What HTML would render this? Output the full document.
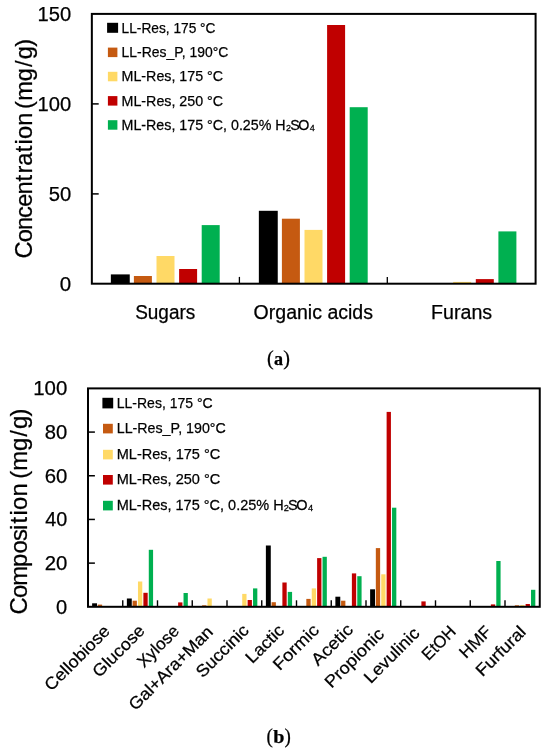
<!DOCTYPE html>
<html lang="en"><head><meta charset="utf-8"><title>Figure</title>
<style>html,body{margin:0;padding:0;background:#fff}svg{display:block}text{fill:#000;stroke:#000;stroke-width:0.25px}</style></head><body>
<svg width="550" height="756" viewBox="0 0 550 756">
<rect width="550" height="756" fill="#fff"/>
<g id="chart-a">
<rect x="110.85" y="274.40" width="18.90" height="9.30" fill="#000000"/>
<rect x="133.90" y="276.00" width="18.00" height="7.70" fill="#C55A11"/>
<rect x="156.50" y="256.00" width="18.00" height="27.70" fill="#FFD966"/>
<rect x="179.10" y="269.00" width="18.00" height="14.70" fill="#C00000"/>
<rect x="201.70" y="225.10" width="18.00" height="58.60" fill="#00B050"/>
<rect x="258.85" y="210.80" width="18.90" height="72.90" fill="#000000"/>
<rect x="281.90" y="218.70" width="18.00" height="65.00" fill="#C55A11"/>
<rect x="304.50" y="229.90" width="18.00" height="53.80" fill="#FFD966"/>
<rect x="327.10" y="25.00" width="18.00" height="258.70" fill="#C00000"/>
<rect x="349.70" y="107.20" width="18.00" height="176.50" fill="#00B050"/>
<rect x="453.20" y="281.90" width="18.00" height="1.80" fill="#FFD966"/>
<rect x="475.80" y="279.10" width="18.00" height="4.60" fill="#C00000"/>
<rect x="498.40" y="231.40" width="18.00" height="52.30" fill="#00B050"/>
<line x1="91.85" y1="103.9" x2="98.7" y2="103.9" stroke="#000" stroke-width="1.5"/>
<line x1="91.85" y1="193.9" x2="98.7" y2="193.9" stroke="#000" stroke-width="1.5"/>
<line x1="239.4" y1="276.9" x2="239.4" y2="283.7" stroke="#000" stroke-width="1.3"/>
<line x1="387.3" y1="276.9" x2="387.3" y2="283.7" stroke="#000" stroke-width="1.3"/>
<rect x="91.85" y="13.9" width="443.75" height="269.80" fill="none" stroke="#000" stroke-width="2"/>
<rect x="107.10" y="22.80" width="11.00" height="10.00" fill="#000000"/>
<rect x="107.90" y="47.60" width="9.50" height="9.50" fill="#C55A11"/>
<rect x="107.90" y="71.80" width="9.50" height="9.50" fill="#FFD966"/>
<rect x="107.90" y="96.10" width="9.50" height="9.50" fill="#C00000"/>
<rect x="107.90" y="120.20" width="9.50" height="9.50" fill="#00B050"/>
</g>
<g id="chart-b">
<rect x="92.12" y="603.30" width="4.90" height="3.50" fill="#000000"/>
<rect x="97.82" y="604.60" width="4.30" height="2.20" fill="#C55A11"/>
<rect x="126.87" y="598.50" width="4.90" height="8.30" fill="#000000"/>
<rect x="132.57" y="600.70" width="4.30" height="6.10" fill="#C55A11"/>
<rect x="137.97" y="581.50" width="4.30" height="25.30" fill="#FFD966"/>
<rect x="143.38" y="592.80" width="4.30" height="14.00" fill="#C00000"/>
<rect x="148.78" y="549.80" width="4.30" height="57.00" fill="#00B050"/>
<rect x="178.12" y="602.40" width="4.30" height="4.40" fill="#C00000"/>
<rect x="183.53" y="593.00" width="4.30" height="13.80" fill="#00B050"/>
<rect x="202.07" y="605.30" width="4.30" height="1.50" fill="#C55A11"/>
<rect x="207.47" y="598.50" width="4.30" height="8.30" fill="#FFD966"/>
<rect x="242.22" y="593.90" width="4.30" height="12.90" fill="#FFD966"/>
<rect x="247.62" y="600.00" width="4.30" height="6.80" fill="#C00000"/>
<rect x="253.03" y="588.40" width="4.30" height="18.40" fill="#00B050"/>
<rect x="265.88" y="545.50" width="4.90" height="61.30" fill="#000000"/>
<rect x="271.58" y="602.20" width="4.30" height="4.60" fill="#C55A11"/>
<rect x="282.38" y="582.50" width="4.30" height="24.30" fill="#C00000"/>
<rect x="287.78" y="591.90" width="4.30" height="14.90" fill="#00B050"/>
<rect x="306.33" y="598.90" width="4.30" height="7.90" fill="#C55A11"/>
<rect x="311.73" y="588.40" width="4.30" height="18.40" fill="#FFD966"/>
<rect x="317.12" y="558.10" width="4.30" height="48.70" fill="#C00000"/>
<rect x="322.53" y="556.80" width="4.30" height="50.00" fill="#00B050"/>
<rect x="335.38" y="596.70" width="4.90" height="10.10" fill="#000000"/>
<rect x="341.08" y="600.70" width="4.30" height="6.10" fill="#C55A11"/>
<rect x="351.88" y="573.40" width="4.30" height="33.40" fill="#C00000"/>
<rect x="357.28" y="576.20" width="4.30" height="30.60" fill="#00B050"/>
<rect x="370.12" y="589.30" width="4.90" height="17.50" fill="#000000"/>
<rect x="375.83" y="548.10" width="4.30" height="58.70" fill="#C55A11"/>
<rect x="381.23" y="574.30" width="4.30" height="32.50" fill="#FFD966"/>
<rect x="386.62" y="411.90" width="4.30" height="194.90" fill="#C00000"/>
<rect x="392.03" y="507.70" width="4.30" height="99.10" fill="#00B050"/>
<rect x="421.38" y="601.40" width="4.30" height="5.40" fill="#C00000"/>
<rect x="490.88" y="604.40" width="4.30" height="2.40" fill="#C00000"/>
<rect x="496.28" y="561.00" width="4.30" height="45.80" fill="#00B050"/>
<rect x="514.83" y="605.30" width="4.30" height="1.50" fill="#C55A11"/>
<rect x="520.23" y="605.10" width="4.30" height="1.70" fill="#FFD966"/>
<rect x="525.62" y="604.00" width="4.30" height="2.80" fill="#C00000"/>
<rect x="531.02" y="589.80" width="4.30" height="17.00" fill="#00B050"/>
<line x1="88.0" y1="432.08" x2="94.9" y2="432.08" stroke="#000" stroke-width="1.5"/>
<line x1="88.0" y1="475.76" x2="94.9" y2="475.76" stroke="#000" stroke-width="1.5"/>
<line x1="88.0" y1="519.44" x2="94.9" y2="519.44" stroke="#000" stroke-width="1.5"/>
<line x1="88.0" y1="563.12" x2="94.9" y2="563.12" stroke="#000" stroke-width="1.5"/>
<line x1="122.75" y1="600.3" x2="122.75" y2="606.8" stroke="#000" stroke-width="1.4"/>
<line x1="157.50" y1="600.3" x2="157.50" y2="606.8" stroke="#000" stroke-width="1.4"/>
<line x1="192.25" y1="600.3" x2="192.25" y2="606.8" stroke="#000" stroke-width="1.4"/>
<line x1="227.00" y1="600.3" x2="227.00" y2="606.8" stroke="#000" stroke-width="1.4"/>
<line x1="261.75" y1="600.3" x2="261.75" y2="606.8" stroke="#000" stroke-width="1.4"/>
<line x1="296.50" y1="600.3" x2="296.50" y2="606.8" stroke="#000" stroke-width="1.4"/>
<line x1="331.25" y1="600.3" x2="331.25" y2="606.8" stroke="#000" stroke-width="1.4"/>
<line x1="366.00" y1="600.3" x2="366.00" y2="606.8" stroke="#000" stroke-width="1.4"/>
<line x1="400.75" y1="600.3" x2="400.75" y2="606.8" stroke="#000" stroke-width="1.4"/>
<line x1="435.50" y1="600.3" x2="435.50" y2="606.8" stroke="#000" stroke-width="1.4"/>
<line x1="470.25" y1="600.3" x2="470.25" y2="606.8" stroke="#000" stroke-width="1.4"/>
<line x1="505.00" y1="600.3" x2="505.00" y2="606.8" stroke="#000" stroke-width="1.4"/>
<rect x="88.0" y="388.4" width="451.75" height="218.40" fill="none" stroke="#000" stroke-width="2"/>
<rect x="102.40" y="397.80" width="10.80" height="10.60" fill="#000000"/>
<rect x="103.00" y="423.80" width="9.80" height="9.60" fill="#C55A11"/>
<rect x="103.00" y="449.80" width="9.80" height="9.60" fill="#FFD966"/>
<rect x="103.00" y="475.00" width="9.80" height="9.60" fill="#C00000"/>
<rect x="103.00" y="500.80" width="9.80" height="9.60" fill="#00B050"/>
</g>
<g id="labels">
<text x="37.57" y="20.78" font-family="'Liberation Sans', sans-serif" font-size="20.0" textLength="33.62" lengthAdjust="spacingAndGlyphs">150</text>
<text x="37.57" y="110.68" font-family="'Liberation Sans', sans-serif" font-size="20.0" textLength="33.62" lengthAdjust="spacingAndGlyphs">100</text>
<text x="48.69" y="200.68" font-family="'Liberation Sans', sans-serif" font-size="20.0" textLength="22.50" lengthAdjust="spacingAndGlyphs">50</text>
<text x="59.80" y="290.58" font-family="'Liberation Sans', sans-serif" font-size="20.0" textLength="11.40" lengthAdjust="spacingAndGlyphs">0</text>
<text transform="translate(31.80,257.30) rotate(-90) scale(1.0288,1)" x="-1.17 14.70 26.50 38.30 49.17 60.94 73.79 81.47 88.98 102.09 109.60 114.98 127.79 141.59 144.18 152.13 171.14 185.02 192.51 204.69" y="0" font-family="'Liberation Sans', sans-serif" font-size="23.0">Concentration (mg/g)</text>
<text x="135.14" y="319.20" font-family="'Liberation Sans', sans-serif" font-size="19.6" textLength="60.15" lengthAdjust="spacingAndGlyphs">Sugars</text>
<text x="253.57" y="319.20" font-family="'Liberation Sans', sans-serif" font-size="19.6" textLength="119.43" lengthAdjust="spacingAndGlyphs">Organic acids</text>
<text x="431.09" y="319.20" font-family="'Liberation Sans', sans-serif" font-size="19.6" textLength="61.02" lengthAdjust="spacingAndGlyphs">Furans</text>
<text x="121.57" y="32.90" font-family="'Liberation Sans', sans-serif" font-size="15.0" textLength="93.95" lengthAdjust="spacingAndGlyphs">LL-Res, 175 °C</text>
<text x="121.56" y="57.00" font-family="'Liberation Sans', sans-serif" font-size="15.0" textLength="106.77" lengthAdjust="spacingAndGlyphs">LL-Res_P, 190°C</text>
<text x="121.53" y="81.20" font-family="'Liberation Sans', sans-serif" font-size="15.0" textLength="101.61" lengthAdjust="spacingAndGlyphs">ML-Res, 175 °C</text>
<text x="121.53" y="105.50" font-family="'Liberation Sans', sans-serif" font-size="15.0" textLength="101.61" lengthAdjust="spacingAndGlyphs">ML-Res, 250 °C</text>
<text transform="translate(0,129.60) scale(0.9502,1)" x="127.90 140.40 148.74 153.73 164.57 172.91 180.41 184.58 188.74 197.09 205.43 213.77 217.94 223.94 234.77 238.94 243.10 251.45 255.61 263.96 272.30 285.64 289.80 300.61 305.46 313.89 325.57" y="0" font-family="'Liberation Sans', sans-serif" font-size="15.0">ML-Res, 175 °C, 0.25% H₂SO₄</text>
<text y="364.90" font-family="'Liberation Serif', serif"><tspan x="267.11" font-size="20.0" textLength="6.74" lengthAdjust="spacingAndGlyphs">(</tspan><tspan x="273.92" font-size="18.5" font-weight="bold" textLength="9.06" lengthAdjust="spacingAndGlyphs">a</tspan><tspan x="283.15" font-size="20.0" textLength="6.74" lengthAdjust="spacingAndGlyphs">)</tspan></text>
<text x="33.25" y="395.28" font-family="'Liberation Sans', sans-serif" font-size="20.0" textLength="34.05" lengthAdjust="spacingAndGlyphs">100</text>
<text x="44.82" y="438.96" font-family="'Liberation Sans', sans-serif" font-size="20.0" textLength="22.47" lengthAdjust="spacingAndGlyphs">80</text>
<text x="44.67" y="482.64" font-family="'Liberation Sans', sans-serif" font-size="20.0" textLength="22.63" lengthAdjust="spacingAndGlyphs">60</text>
<text x="45.25" y="526.32" font-family="'Liberation Sans', sans-serif" font-size="20.0" textLength="22.03" lengthAdjust="spacingAndGlyphs">40</text>
<text x="44.68" y="570.00" font-family="'Liberation Sans', sans-serif" font-size="20.0" textLength="22.62" lengthAdjust="spacingAndGlyphs">20</text>
<text x="56.12" y="613.68" font-family="'Liberation Sans', sans-serif" font-size="20.0" textLength="11.17" lengthAdjust="spacingAndGlyphs">0</text>
<text transform="translate(27.40,613.30) rotate(-90) scale(1.0352,1)" x="-1.17 14.71 26.50 44.83 57.66 69.81 80.52 86.82 94.40 99.85 112.84 126.64 129.95 137.81 156.72 170.54 177.92 190.06" y="0" font-family="'Liberation Sans', sans-serif" font-size="23.0">Composition (mg/g)</text>
<text x="116.75" y="407.90" font-family="'Liberation Sans', sans-serif" font-size="15.2" textLength="95.88" lengthAdjust="spacingAndGlyphs">LL-Res, 175 °C</text>
<text x="116.73" y="433.00" font-family="'Liberation Sans', sans-serif" font-size="15.2" textLength="109.11" lengthAdjust="spacingAndGlyphs">LL-Res_P, 190°C</text>
<text x="116.71" y="459.00" font-family="'Liberation Sans', sans-serif" font-size="15.2" textLength="103.55" lengthAdjust="spacingAndGlyphs">ML-Res, 175 °C</text>
<text x="116.71" y="484.20" font-family="'Liberation Sans', sans-serif" font-size="15.2" textLength="103.55" lengthAdjust="spacingAndGlyphs">ML-Res, 250 °C</text>
<text transform="translate(0,510.10) scale(0.9545,1)" x="122.27 134.94 143.39 148.45 159.43 167.88 175.48 179.70 183.93 192.38 200.83 209.29 213.51 219.59 230.57 234.79 239.01 247.47 251.69 260.14 268.60 282.11 286.33 296.95 301.85 310.38 322.06" y="0" font-family="'Liberation Sans', sans-serif" font-size="15.2">ML-Res, 175 °C, 0.25% H₂SO₄</text>
<text transform="translate(51.27,691.74) rotate(-45)" x="0" y="0" font-family="'Liberation Sans', sans-serif" font-size="17.0" textLength="84.41" lengthAdjust="spacingAndGlyphs">Cellobiose</text>
<text transform="translate(99.35,678.21) rotate(-45)" x="0" y="0" font-family="'Liberation Sans', sans-serif" font-size="17.0" textLength="65.76" lengthAdjust="spacingAndGlyphs">Glucose</text>
<text transform="translate(143.95,668.47) rotate(-45)" x="0" y="0" font-family="'Liberation Sans', sans-serif" font-size="17.0" textLength="51.48" lengthAdjust="spacingAndGlyphs">Xylose</text>
<text transform="translate(135.51,711.32) rotate(-45)" x="0" y="0" font-family="'Liberation Sans', sans-serif" font-size="17.0" textLength="110.84" lengthAdjust="spacingAndGlyphs">Gal+Ara+Man</text>
<text transform="translate(202.79,678.50) rotate(-45)" x="0" y="0" font-family="'Liberation Sans', sans-serif" font-size="17.0" textLength="66.70" lengthAdjust="spacingAndGlyphs">Succinic</text>
<text transform="translate(252.37,664.32) rotate(-45)" x="0" y="0" font-family="'Liberation Sans', sans-serif" font-size="17.0" textLength="46.55" lengthAdjust="spacingAndGlyphs">Lactic</text>
<text transform="translate(279.70,671.36) rotate(-45)" x="0" y="0" font-family="'Liberation Sans', sans-serif" font-size="17.0" textLength="56.98" lengthAdjust="spacingAndGlyphs">Formic</text>
<text transform="translate(318.09,666.60) rotate(-45)" x="0" y="0" font-family="'Liberation Sans', sans-serif" font-size="17.0" textLength="50.76" lengthAdjust="spacingAndGlyphs">Acetic</text>
<text transform="translate(331.46,688.78) rotate(-45)" x="0" y="0" font-family="'Liberation Sans', sans-serif" font-size="17.0" textLength="75.97" lengthAdjust="spacingAndGlyphs">Propionic</text>
<text transform="translate(370.78,684.19) rotate(-45)" x="0" y="0" font-family="'Liberation Sans', sans-serif" font-size="17.0" textLength="70.47" lengthAdjust="spacingAndGlyphs">Levulinic</text>
<text transform="translate(428.44,661.15) rotate(-45)" x="0" y="0" font-family="'Liberation Sans', sans-serif" font-size="17.0" textLength="40.20" lengthAdjust="spacingAndGlyphs">EtOH</text>
<text transform="translate(466.06,659.30) rotate(-45)" x="0" y="0" font-family="'Liberation Sans', sans-serif" font-size="17.0" textLength="37.45" lengthAdjust="spacingAndGlyphs">HMF</text>
<text transform="translate(482.56,677.30) rotate(-45)" x="0" y="0" font-family="'Liberation Sans', sans-serif" font-size="17.0" textLength="62.82" lengthAdjust="spacingAndGlyphs">Furfural</text>
<text y="742.80" font-family="'Liberation Serif', serif"><tspan x="266.56" font-size="20.0" textLength="6.35" lengthAdjust="spacingAndGlyphs">(</tspan><tspan x="273.35" font-size="18.5" font-weight="bold" textLength="11.17" lengthAdjust="spacingAndGlyphs">b</tspan><tspan x="284.39" font-size="20.0" textLength="6.35" lengthAdjust="spacingAndGlyphs">)</tspan></text>
</g>
</svg></body></html>
